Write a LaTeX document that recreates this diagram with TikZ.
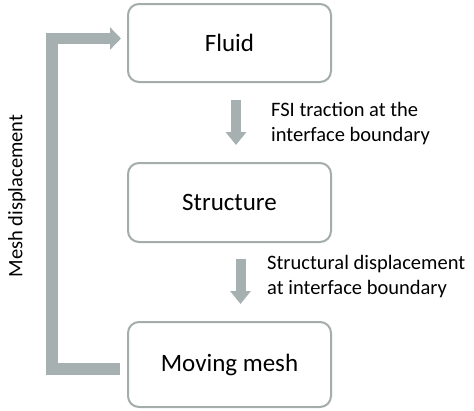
\documentclass[tikz,border=0pt]{standalone}
\usepackage{fontspec}
\setmainfont{Carlito}
\usetikzlibrary{arrows.meta,calc}
\definecolor{boxgray}{RGB}{164,172,172}
\definecolor{arrgray}{RGB}{166,176,176}
\tikzset{
  stagebox/.style={draw=boxgray, line width=2pt, rounded corners=11pt, fill=white,
    minimum width=203pt, inner sep=0pt, font=\fontsize{25}{30}\selectfont},
  lbl/.style={font=\fontsize{20.5}{25}\selectfont, align=left, inner sep=0pt, anchor=west},
  flowarrow/.style={draw=arrgray, line width=10pt, -{Triangle[width=20pt,length=13pt]}},
  backarrow/.style={draw=arrgray, line width=11.5pt, -{Triangle[width=22pt,length=11pt]}}
}
\begin{document}
\begin{tikzpicture}[x=1pt,y=-1pt]
\useasboundingbox (0,0) rectangle (474,410);
\node[stagebox, minimum height=78pt] (fluid) at (229.5,43) {Fluid};
\node[stagebox, minimum height=79pt] (struct) at (229.5,202.5) {Structure};
\node[stagebox, minimum height=85pt] (mesh) at (229.5,364.5) {Moving mesh};
\draw[flowarrow] ($(fluid.south)+(6.5,17)$) -- ($(struct.north)+(6.5,-17)$);
\draw[flowarrow] ($(struct.south)+(11,16)$) -- ($(mesh.north)+(11,-17)$);
\node[lbl] (l1) at (271,124) {FSI traction at the\\interface boundary};
\node[lbl] (l2) at (267,277) {Structural displacement\\at interface boundary};
\coordinate (bl) at (52,369);
\coordinate (tl) at (52,38.5);
\draw[backarrow, line join=miter] ($(mesh.west)+(-7,4.5)$) -- (bl) -- (tl) -- ($(fluid.west)+(-6,-4.5)$);
\node[font=\fontsize{20.5}{25}\selectfont, rotate=90, inner sep=0pt] (md) at (17,196) {Mesh displacement};
\end{tikzpicture}
\end{document}
